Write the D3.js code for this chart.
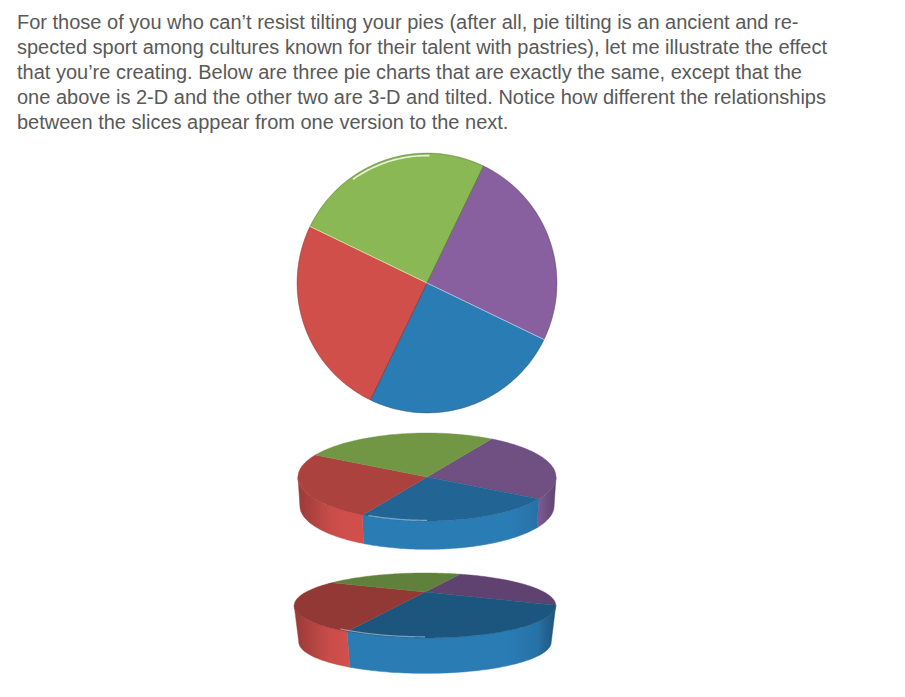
<!DOCTYPE html>
<html>
<head>
<meta charset="utf-8">
<script src="https://cdn.jsdelivr.net/npm/d3@7"></script>
<style>
  html, body { margin: 0; padding: 0; background: #fff; }
  svg { display: block; }
</style>
</head>
<body>
<svg id="chart" width="905" height="697"></svg>
<script>
var textLines = [
  "For those of you who can\u2019t resist tilting your pies (after all, pie tilting is an ancient and re-",
  "spected sport among cultures known for their talent with pastries), let me illustrate the effect",
  "that you\u2019re creating. Below are three pie charts that are exactly the same, except that the",
  "one above is 2-D and the other two are 3-D and tilted. Notice how different the relationships",
  "between the slices appear from one version to the next."
];

// four equal slices, clockwise starting from the purple one
var sliceNames = ["purple", "blue", "red", "green"];
var sliceValues = [25, 25, 25, 25];
var sliceColors = ["#88609f", "#2b7bb5", "#d1504c", "#8ab854"];

// one entry per pie: a = horizontal radius, b = vertical radius, p = perspective
var views = [
  { id: "flat", cx: 427, cy: 283, a: 130, b: 130, p: 0, start: 25.8, depth: 0, shrink: 1, shade: 0 },
  { id: "tilt1", cx: 427, cy: 477, a: 129, b: 44, p: 0, start: 30, depth: 29, shrink: 0.985, shade: 0.56 },
  { id: "tilt2", cx: 425, cy: 592, a: 119, b: 26.9, p: 0.415, start: 24, depth: 37, shrink: 0.965, shade: 1 }
];

var svg = d3.select("#chart");
var defs = svg.append("defs");

// the reference is a slightly soft raster, so the pies get a very small blur
defs.append("filter").attr("id", "soft")
  .append("feGaussianBlur").attr("stdDeviation", 0.35);

var color = d3.scaleOrdinal().domain(sliceNames).range(sliceColors);
var line = d3.line().curve(d3.curveLinear);

svg.append("g").selectAll("text")
  .data(textLines)
  .join("text")
  .attr("x", 17)
  .attr("y", function (d, i) { return 29 + i * 25; })
  .attr("font-family", "'Liberation Sans', Arial, sans-serif")
  .attr("font-size", 20)
  .attr("fill", "#595959")
  .text(function (d) { return d; });

// disc angle (clockwise from north) to a screen point
function project(view, angle, r, bottom) {
  var u = Math.sin(angle) * r, v = -Math.cos(angle) * r;
  var s = bottom ? view.shrink : 1;
  var w = 1 - view.p * v;
  return [
    view.cx + view.a * s * u / w,
    view.cy + (bottom ? view.depth : 0) + view.b * s * v / w
  ];
}

function arcPoints(view, a0, a1, r, bottom) {
  var n = Math.max(2, Math.ceil(Math.abs(a1 - a0) / 0.02));
  return d3.range(n + 1).map(function (i) {
    return project(view, a0 + (a1 - a0) * i / n, r, bottom);
  });
}

function drawPie(view) {
  var g = svg.append("g").attr("class", view.id).attr("filter", "url(#soft)");
  var start = view.start * Math.PI / 180;
  var arcs = d3.pie().sort(null).startAngle(start).endAngle(start + 2 * Math.PI)(sliceValues)
    .map(function (d, i) { d.name = sliceNames[i]; return d; });

  var faceColor = function (name) {
    return d3.color(color(name)).darker(view.shade).formatHex();
  };

  // side wall: only the part of each slice between the two silhouette angles
  if (view.depth > 0) {
    var lo = Math.acos(-view.p), hi = 2 * Math.PI - lo;
    arcs.forEach(function (d) {
      var a0 = Math.max(d.startAngle, lo), a1 = Math.min(d.endAngle, hi);
      if (a1 <= a0) return;
      var gradId = "wall-" + view.id + "-" + d.name;
      var base = d3.color(color(d.name));
      var grad = defs.append("linearGradient")
        .attr("id", gradId)
        .attr("gradientUnits", "userSpaceOnUse")
        .attr("x1", view.cx - 131).attr("x2", view.cx + 131)
        .attr("y1", 0).attr("y2", 0);
      [[0, 0.9], [0.03, 0.7], [0.14, 0.1], [0.22, 0], [0.82, 0], [0.93, 0.25], [0.98, 0.85], [1, 1.05]].forEach(function (s) {
        grad.append("stop")
          .attr("offset", s[0])
          .attr("stop-color", base.darker(s[1]).formatHex());
      });
      var top = arcPoints(view, a0, a1, 1, false);
      var bot = arcPoints(view, a1, a0, 1, true);
      g.append("path")
        .attr("d", line(top.concat(bot)) + "Z")
        .attr("fill", "url(#" + gradId + ")")
        .attr("stroke", "url(#" + gradId + ")")
        .attr("stroke-width", 0.5);
    });
  }

  // top face
  arcs.forEach(function (d) {
    var pts = [project(view, 0, 0, false)].concat(arcPoints(view, d.startAngle, d.endAngle, 1, false));
    g.append("path")
      .attr("d", line(pts) + "Z")
      .attr("fill", faceColor(d.name))
      .attr("stroke", faceColor(d.name))
      .attr("stroke-width", 0.4);
  });

  if (view.depth > 0) {
    // soft highlight along the front rim
    g.append("path")
      .attr("d", line(arcPoints(view, Math.PI, 3.62, 0.985, false)))
      .attr("fill", "none")
      .attr("stroke", "#cfe6f5")
      .attr("stroke-opacity", 0.5)
      .attr("stroke-width", 1.2);
  } else {
    // the flat pie has a thin rim and light or dark seams
    g.append("circle")
      .attr("cx", view.cx).attr("cy", view.cy).attr("r", view.a - 0.3)
      .attr("fill", "none")
      .attr("stroke", "#555")
      .attr("stroke-opacity", 0.35)
      .attr("stroke-width", 0.8);
    g.append("path")
      .attr("d", line(arcPoints(view, -0.62, 0.02, 0.98, false)))
      .attr("fill", "none")
      .attr("stroke", "#f4f8e4")
      .attr("stroke-opacity", 0.9)
      .attr("stroke-width", 1.6);
    var seamColors = ["#f0d8ee", "#5a3a3a", "#eef3c0", "#4f5a3a"];
    arcs.forEach(function (d, i) {
      g.append("path")
        .attr("d", line([project(view, 0, 0, false), project(view, d.endAngle, 1, false)]))
        .attr("stroke", seamColors[i])
        .attr("stroke-opacity", 0.75)
        .attr("stroke-width", 0.9);
    });
  }
}

views.forEach(drawPie);
</script>
</body>
</html>
